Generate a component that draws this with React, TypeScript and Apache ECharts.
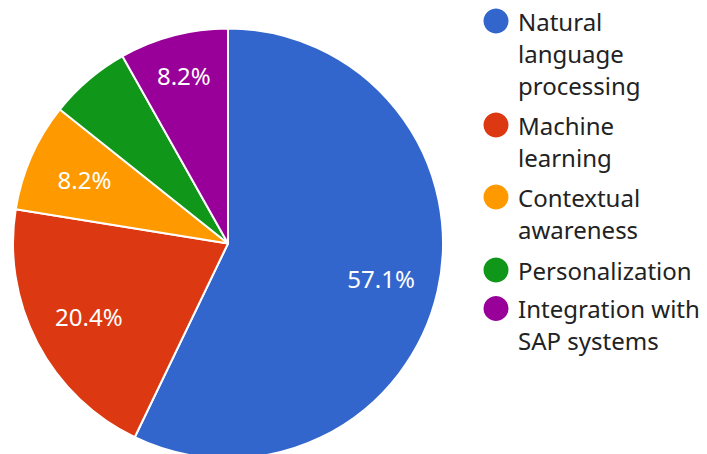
import React, { useEffect, useRef } from 'react';
import * as echarts from 'echarts';

const categories = [
  'Natural language processing',
  'Machine learning',
  'Contextual awareness',
  'Personalization',
  'Integration with SAP systems',
];
const legendLabels = [
  'Natural\nlanguage\nprocessing',
  'Machine\nlearning',
  'Contextual\nawareness',
  'Personalization',
  'Integration with\nSAP systems',
];
const values = [28, 10, 4, 3, 4];
const colors = ['#3366cc', '#dc3912', '#ff9900', '#109618', '#990099'];

const FONT = "'Noto Sans', 'Open Sans', sans-serif";
const CX = 228;
const CY = 243.5;
const R = 215;
const LINE_H = 32;
const legendIconY = [21, 125, 197, 270, 308.5];

export default function App() {
  const ref = useRef<HTMLDivElement>(null);
  useEffect(() => {
    if (!ref.current) return;
    const chart = echarts.init(ref.current, undefined, { renderer: 'svg' });
    const total = values.reduce((a, b) => a + b, 0);
    const pct = (v: number) => ((v / total) * 100).toFixed(1) + '%';

    const makeOverlay = (r0: number, show: boolean[]) => ({
      type: 'pie',
      center: [CX, CY],
      radius: [r0, R],
      startAngle: 90,
      clockwise: true,
      silent: true,
      animation: false,
      emphasis: { disabled: true },
      itemStyle: { color: 'rgba(0,0,0,0)', borderWidth: 0 },
      labelLine: { show: false },
      data: categories.map((name, i) => ({
        name,
        value: values[i],
        label: {
          show: show[i],
          position: 'inside',
          color: '#ffffff',
          fontSize: 24,
          fontFamily: FONT,
          formatter: () => pct(values[i]),
        },
      })),
    });

    const legendGraphics: any[] = [];
    categories.forEach((_, i) => {
      legendGraphics.push({
        type: 'circle',
        shape: { cx: 496, cy: legendIconY[i], r: 12.5 },
        style: { fill: colors[i] },
        silent: true,
      });
      legendGraphics.push({
        type: 'text',
        x: 518,
        y: legendIconY[i] - LINE_H / 2,
        style: {
          text: legendLabels[i],
          fill: '#222222',
          fontSize: 24,
          fontFamily: FONT,
          lineHeight: LINE_H,
          align: 'left',
          verticalAlign: 'top',
        },
        silent: true,
      });
    });

    chart.setOption({
      animation: false,
      color: colors,
      graphic: legendGraphics,
      series: [
        {
          type: 'pie',
          center: [CX, CY],
          radius: R,
          startAngle: 90,
          clockwise: true,
          animation: false,
          emphasis: { disabled: true },
          itemStyle: { borderColor: '#ffffff', borderWidth: 2 },
          label: { show: false },
          labelLine: { show: false },
          data: categories.map((name, i) => ({ name, value: values[i] })),
        },
        makeOverlay(93, [true, true, true, false, false]),
        makeOverlay(127, [false, false, false, false, true]),
      ],
    });
    return () => chart.dispose();
  }, []);
  return (
    <div
      ref={ref}
      style={{ position: 'fixed', left: 0, top: 0, width: 707, height: 454, background: '#ffffff' }}
    />
  );
}
